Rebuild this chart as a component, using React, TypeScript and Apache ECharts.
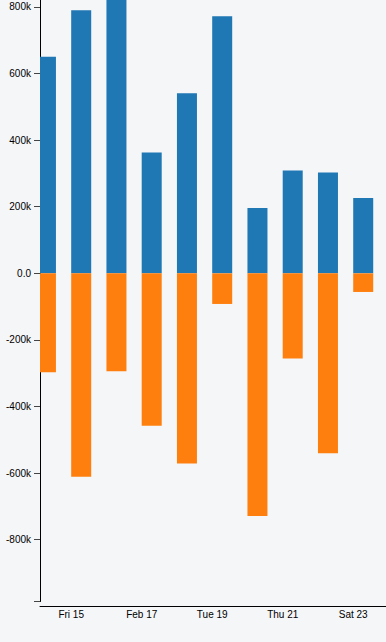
import React, { useEffect, useRef } from "react";
import * as echarts from "echarts";

// Data
const dates = [
  "2019-02-14", "2019-02-15", "2019-02-16", "2019-02-17", "2019-02-18",
  "2019-02-19", "2019-02-20", "2019-02-21", "2019-02-22", "2019-02-23",
];
const positiveValues = [650000, 790000, 870000, 363000, 541000, 772000, 196000, 309000, 303000, 226000];
const negativeValues = [-297000, -611000, -294000, -458000, -571000, -92000, -729000, -256000, -540000, -56000];
const yTickStep = 200000;

const DAY_MS = 86400000;
const WEEKDAYS = ["Sun", "Mon", "Tue", "Wed", "Thu", "Fri", "Sat"];
const MONTHS = ["Jan", "Feb", "Mar", "Apr", "May", "Jun", "Jul", "Aug", "Sep", "Oct", "Nov", "Dec"];

const toDay = (s: string) => Date.parse(s + "T00:00:00Z") / DAY_MS;

const BAR_W = 20;
const BG = "#f4f6f8";
const FONT = "'Liberation Sans', Arial, sans-serif";

export default function App() {
  const ref = useRef<HTMLDivElement>(null);
  useEffect(() => {
    document.body.style.margin = "0";
    const chart = echarts.init(ref.current!, null, { renderer: "svg" });
    const days = dates.map(toDay);
    const firstTick = days[1];
    const xMin = firstTick - 0.885;
    const xMax = firstTick + 8.93;
    const yMin = -985500;
    const yMax = 850800;

    const makeSeries = (vals: number[], color: string) => ({
      type: "custom",
      data: days.map((d, i) => [d, vals[i]]),
      encode: { x: 0, y: 1 },
      renderItem: (params: any, api: any) => {
        const x = api.value(0);
        const v = api.value(1);
        const p0 = api.coord([x, 0]);
        const p1 = api.coord([x, v]);
        const shape = echarts.graphic.clipRectByRect(
          {
            x: p0[0],
            y: Math.min(p0[1], p1[1]),
            width: BAR_W,
            height: Math.abs(p1[1] - p0[1]),
          },
          {
            x: params.coordSys.x,
            y: params.coordSys.y,
            width: params.coordSys.width,
            height: params.coordSys.height,
          }
        );
        if (!shape) return null;
        return { type: "rect", shape, style: { fill: color } };
      },
    });

    chart.setOption({
      animation: false,
      backgroundColor: BG,
      grid: { left: 40, right: 0, top: -10, bottom: 40.5, outerBoundsMode: "none", containLabel: false },
      xAxis: {
        type: "value",
        min: xMin,
        max: xMax,
        offset: 5,
        splitLine: { show: false },
        axisTick: { show: false },
        axisLine: { show: true, onZero: false, lineStyle: { color: "#000", width: 1 } },
        axisLabel: {
          color: "#000",
          fontSize: 10,
          fontFamily: FONT,
          margin: 3,
          showMinLabel: true,
          showMaxLabel: true,
          formatter: (v: number) => {
            if (Math.abs(v - Math.round(v)) > 1e-6) return "";
            const dt = new Date(Math.round(v) * DAY_MS);
            const dd = String(dt.getUTCDate()).padStart(2, "0");
            if (dt.getUTCDay() === 0) return MONTHS[dt.getUTCMonth()] + " " + dd;
            return WEEKDAYS[dt.getUTCDay()] + " " + dd;
          },
        },
      },
      yAxis: {
        type: "value",
        min: yMin,
        max: yMax,
        splitNumber: 9,
        splitLine: { show: false },
        axisLine: { show: true, onZero: false, lineStyle: { color: "#000", width: 1 } },
        axisTick: { show: true, length: 6, lineStyle: { color: "#444" } },
        axisLabel: {
          color: "#000",
          fontSize: 10,
          fontFamily: FONT,
          margin: 9,
          formatter: (v: number) => {
            const r = Math.round(v / yTickStep) * yTickStep;
            if (Math.abs(v - r) > 1) return "";
            if (r === 0) return "0.0";
            return r / 1000 + "k";
          },
        },
      },
      series: [makeSeries(positiveValues, "#1f77b4"), makeSeries(negativeValues, "#ff7f0e")],
    });
    return () => chart.dispose();
  }, []);
  return <div ref={ref} style={{ width: 386, height: 642, background: BG }} />;
}
